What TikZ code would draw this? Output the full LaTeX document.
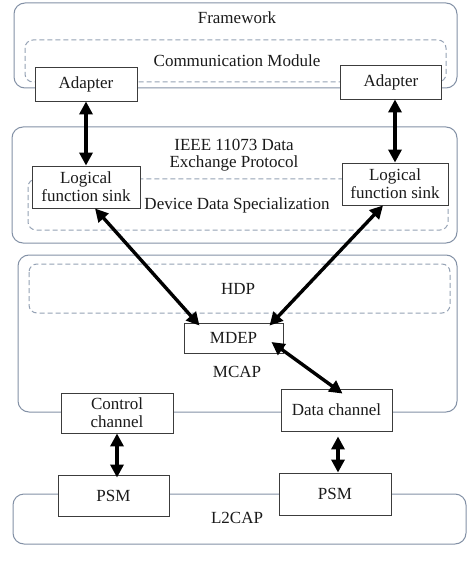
\documentclass[tikz,border=0pt]{standalone}
\usepackage{fontspec}
\setmainfont{Liberation Serif}
\usetikzlibrary{arrows.meta,calc}
\definecolor{frame}{HTML}{8391A6}
\definecolor{dash}{HTML}{95A2B5}
\definecolor{ink}{HTML}{1A1A1A}
\begin{document}
\begin{tikzpicture}[x=1pt,y=-1pt,
  layer/.style={draw=frame,line width=1pt,rounded corners=11pt},
  sublayer/.style={draw=dash,line width=1pt,dashed,dash pattern=on 5pt off 3pt,rounded corners=8pt},
  lbl/.style={font=\fontsize{17}{18.5}\selectfont,text=ink,align=center},
  box/.style={draw=ink!85,line width=0.9pt,fill=white,font=\fontsize{17}{18}\selectfont,text=ink,align=center,inner sep=0pt},
  dbl/.style={line width=3.4pt,{Triangle[length=13pt,width=13pt]}-{Triangle[length=13pt,width=13pt]}}]
\useasboundingbox[fill=white] (0,0) rectangle (474,569);
% layers
\draw[layer] (14,3) rectangle (457,88);
\draw[sublayer] (25,40) rectangle (446,82);
\node[lbl] (fw) at (237,18) {Framework};
\node[lbl] (cm) at (237,61) {Communication Module};
\draw[layer] (12,127) rectangle (457,243);
\draw[sublayer] (28,179) rectangle (448,230);
\node[lbl] (ieee) at (234,155) {IEEE 11073 Data\\[-1pt]Exchange Protocol};
\node[lbl] (dds) at (237,205) {Device Data Specialization};
\draw[layer] (18,255) rectangle (457,412);
\draw[sublayer] (29,264) rectangle (450,313);
\node[lbl] (hdp) at (238,289) {HDP};
\node[lbl] (mcap) at (237,372) {MCAP};
\draw[layer] (13,494) rectangle (466,544);
\node[lbl] (l2) at (237,518) {L2CAP};
% boxes
\node[box,minimum width=102pt,minimum height=34pt] (adL) at (86,84) {Adapter};
\node[box,minimum width=101pt,minimum height=34pt] (adR) at (391,82) {Adapter};
\node[box,minimum width=108pt,minimum height=42pt] (lfsL) at (86,187) {Logical\\function sink};
\node[box,minimum width=106pt,minimum height=42pt] (lfsR) at (395,184) {Logical\\function sink};
\node[box,minimum width=99pt,minimum height=30pt] (mdep) at (233.5,338) {MDEP};
\node[box,minimum width=112pt,minimum height=40pt] (cc) at (117,413) {Control\\channel};
\node[box,minimum width=111pt,minimum height=42pt] (dc) at (336.5,410) {Data channel};
\node[box,minimum width=111pt,minimum height=41pt] (psmL) at (113.5,495.5) {PSM};
\node[box,minimum width=112pt,minimum height=42pt] (psmR) at (335,494) {PSM};
% arrows
\draw[dbl] (adL.south) -- (lfsL.north);
\draw[dbl] (adR.south -| lfsR.north) -- (lfsR.north);
\draw[dbl] ([xshift=9pt]lfsL.south) -- ([xshift=-34pt,yshift=-3pt]mdep.north);
\draw[dbl] ([xshift=-12pt]lfsR.south) -- ([xshift=36pt,yshift=-3pt]mdep.north);
\draw[dbl] ([shift={(-12pt,-4pt)}]mdep.east) -- ([shift={(6pt,-5pt)}]dc.north);
\draw[dbl] (cc.south) -- ($(cc.south |- psmL.north)+(0,3)$);
\draw[dbl] ([yshift=-5pt,xshift=1.5pt]dc.south) -- ([xshift=3pt]psmR.north);
\end{tikzpicture}
\end{document}
